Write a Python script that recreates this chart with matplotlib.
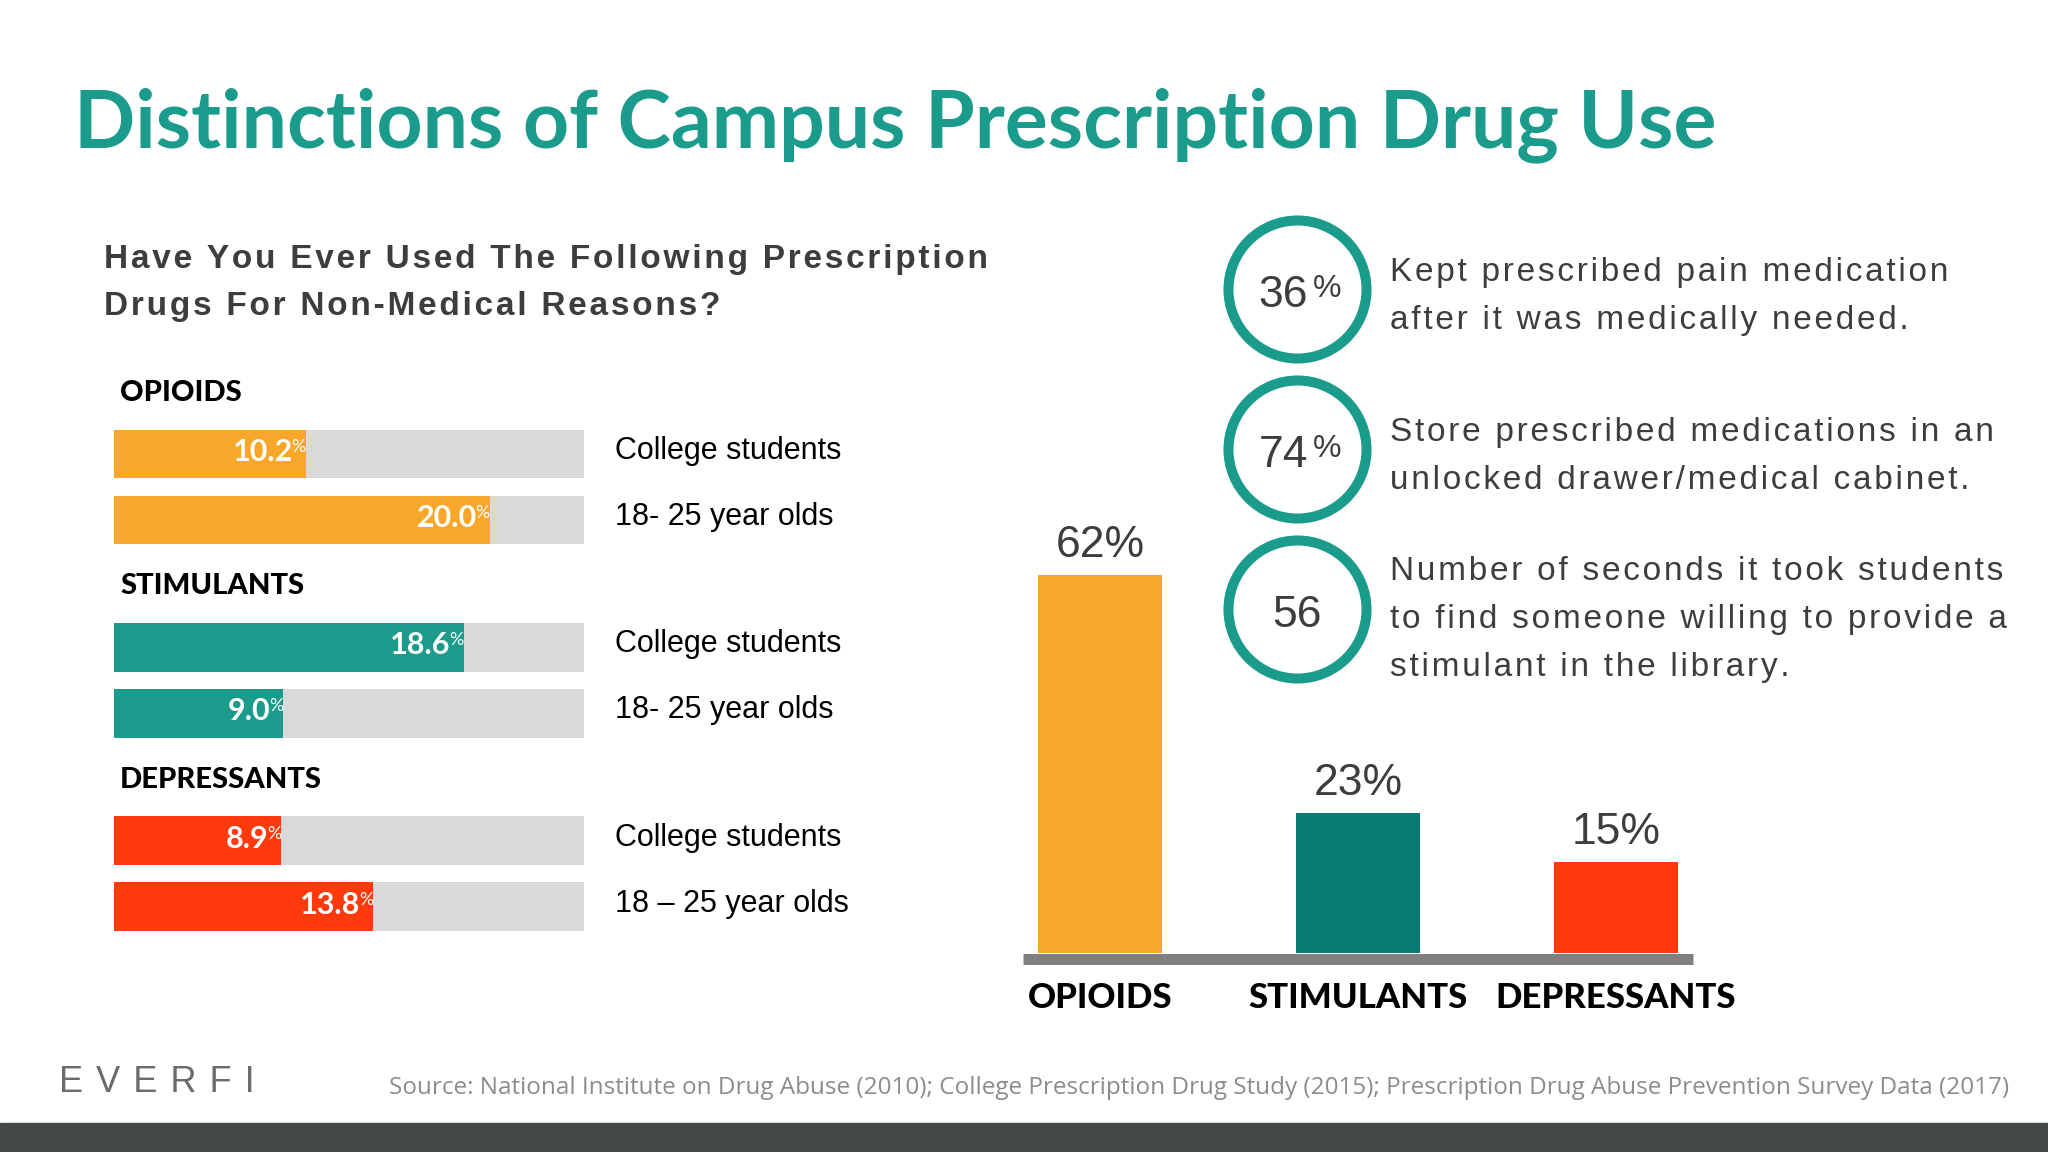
import matplotlib.pyplot as plt
from matplotlib.patches import Rectangle

W, H = 2048, 1152

# ---- data ----
title = "Distinctions of Campus Prescription Drug Use"
question_lines = ["Have You Ever Used The Following Prescription",
                  "Drugs For Non-Medical Reasons?"]

drug_classes = ["OPIOIDS", "STIMULANTS", "DEPRESSANTS"]
group_labels = [["College students", "18- 25 year olds"],
                ["College students", "18- 25 year olds"],
                ["College students", "18 \u2013 25 year olds"]]
college_pct = [10.2, 18.6, 8.9]
young_adult_pct = [20.0, 9.0, 13.8]
track_max = 25

overall_pct = [62, 23, 15]

stat_numbers = ["36", "74", "56"]
stat_units = ["%", "%", ""]
stat_lines = [["Kept prescribed pain medication", "after it was medically needed."],
              ["Store prescribed medications in an", "unlocked drawer/medical cabinet."],
              ["Number of seconds it took students",
               "to find someone willing to provide a",
               "stimulant in the library."]]

source = ("Source: National Institute on Drug Abuse (2010); College Prescription Drug Study (2015); "
          "Prescription Drug Abuse Prevention Survey Data (2017)")

# ---- style ----
ORANGE = "#F9A72B"
TEAL = "#1A9B8B"
DARK_TEAL = "#087B74"
RED = "#FF3A0D"
TRACK = "#D9D9D9"
TEXT = "#3D3D3D"
left_colors = [ORANGE, TEAL, RED]
right_colors = [ORANGE, DARK_TEAL, RED]

SANS = ["Liberation Sans", "DejaVu Sans"]
HAIR = "\u200a"


def tracked(s, n=1):
    return (HAIR * n).join(s)


fig = plt.figure(figsize=(W / 100, H / 100), dpi=100)
fig.patch.set_facecolor("white")


def px_axes(x0, y0, x1, y1):
    ax = fig.add_axes([x0 / W, 1 - y1 / H, (x1 - x0) / W, (y1 - y0) / H])
    ax.set_facecolor("none")
    return ax


def fy(y):
    return 1 - y / H


# title + question
fig.text(74 / W, fy(147), title, family="Lato", weight="bold", fontsize=58,
         color=TEAL, va="baseline")
for i, line in enumerate(question_lines):
    fig.text(104 / W, fy(268 + 47 * i), tracked(line), family=SANS, weight="bold",
             fontsize=24, color=TEXT, va="baseline")

# ---- left: horizontal bars ----
ROW = 66
GROUP_STEP = 2.93
ax_l = px_axes(114, 370, 584, 940)
ax_l.set_xlim(0, track_max)
ax_l.set_ylim(486 / ROW, -84 / ROW)
ax_l.axis("off")

for g, name in enumerate(drug_classes):
    vals = [college_pct[g], young_adult_pct[g]]
    pos = [g * GROUP_STEP + r for r in range(2)]
    ax_l.barh(pos, [track_max] * 2, height=0.74, color=TRACK)
    ax_l.barh(pos, vals, height=0.74, color=left_colors[g])
    ax_l.annotate(name, (0, pos[0]), xytext=(6, 53), textcoords="offset pixels",
                  family="Lato", weight="black", fontsize=21, color="black",
                  va="baseline")
    for p, v, lab in zip(pos, vals, group_labels[g]):
        ax_l.annotate(f"{v:.1f}", (v, p), xytext=(-13, -7), textcoords="offset pixels",
                      ha="right", va="baseline", family="Lato", weight="bold",
                      fontsize=22, color="white")
        ax_l.annotate("%", (v, p), xytext=(0, 2), textcoords="offset pixels",
                      ha="right", va="baseline", family="Lato", fontsize=13,
                      color="white")
        ax_l.annotate(lab, (track_max, p), xytext=(31, -5), textcoords="offset pixels",
                      ha="left", va="baseline", family=SANS, fontsize=22,
                      color="black")

# ---- right: vertical bars ----
PX_PER_PCT = 6.1
YMAX = 70
ax_r = px_axes(1023, 953 - YMAX * PX_PER_PCT, 1693, 953)
ax_r.bar(range(3), overall_pct, width=0.48, color=right_colors)
ax_r.set_xlim(-0.30, 2.30)
ax_r.set_ylim(0, YMAX)
for s in ["top", "right", "left"]:
    ax_r.spines[s].set_visible(False)
ax_r.spines["bottom"].set_color("#808080")
ax_r.spines["bottom"].set_linewidth(11 * 0.72)
ax_r.spines["bottom"].set_position(("outward", 11 * 0.72 / 2))
ax_r.spines["bottom"].set_capstyle("butt")
ax_r.set_yticks([])
ax_r.set_xticks(range(3), drug_classes)
ax_r.tick_params(axis="x", length=0, pad=35.6)
for lab in ax_r.get_xticklabels():
    lab.set(family="Lato", weight="black", fontsize=25, va="baseline", color="black")
for i, v in enumerate(overall_pct):
    ax_r.annotate(f"{v}%", (i, v), xytext=(0, 18), textcoords="offset pixels",
                  ha="center", va="baseline", family=SANS, fontsize=32, color=TEXT)

# ---- circles with stats ----
ax_c = px_axes(1197, 209, 1397, 689)
ax_c.set_xlim(-1, 1)
ax_c.set_ylim(2.5, -0.5)
ax_c.axis("off")
ax_c.scatter([0] * 3, range(3), s=99.4 ** 2, facecolors="white", edgecolors=TEAL,
             linewidths=7.2, zorder=2)
for i, (num, unit, lines) in enumerate(zip(stat_numbers, stat_units, stat_lines)):
    if unit:
        ax_c.annotate(num, (0, i), xytext=(11, -18), textcoords="offset pixels",
                      ha="right", va="baseline", family=SANS, fontsize=32,
                      color=TEXT, zorder=3)
        ax_c.annotate(unit, (0, i), xytext=(16, -8), textcoords="offset pixels",
                      ha="left", va="baseline", family=SANS, fontsize=23,
                      color=TEXT, zorder=3)
    else:
        ax_c.annotate(num, (0, i), xytext=(0, -18), textcoords="offset pixels",
                      ha="center", va="baseline", family=SANS, fontsize=32,
                      color=TEXT, zorder=3)
    first = -8 - (len(lines) - 2) * 21
    for k, line in enumerate(lines):
        ax_c.annotate(tracked(line), (0, i), xytext=(93, -(first + 48 * k)),
                      textcoords="offset pixels", ha="left", va="baseline",
                      family=SANS, fontsize=24, color=TEXT)

# ---- footer ----
fig.text(2009 / W, fy(1094), source, ha="right", va="baseline", family="Open Sans",
         fontsize=17.5, color="#8C8C8C")
fig.text(59 / W, fy(1092), (" " + HAIR).join("EVERFI"), family=SANS, fontsize=26,
         color="#6B6B6B", va="baseline")
fig.add_artist(Rectangle((0, 0), 1, 29 / H, transform=fig.transFigure,
                         color="#434848"))

fig.savefig("out.png", dpi=100)
